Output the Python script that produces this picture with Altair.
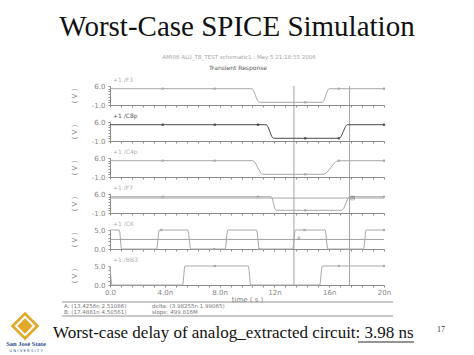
import altair as alt
import pandas as pd

# ---------------- data (time in ns, voltage in V) ----------------
names = ["+1  /F3", "+1  /C8p", "+1  /C4p", "+1  /F7", "+1  /CK", "+1  /BB3"]

f3_t = [0, 10.34, 10.9, 15.5, 16.0, 20]
f3_v = [5, 5, 0, 0, 5, 5]
c8p_t = [0, 11.4, 11.93, 16.73, 17.33, 20]
c8p_v = [5, 5, 0, 0, 5, 5]
c4p_t = [0, 10.42, 11.15, 15.56, 16.68, 20]
c4p_v = [5, 5, 0, 0, 5, 5]
f7_t = [0, 11.76, 12.12, 16.92, 17.5, 20]
f7_v = [5, 5, 0, 0, 5, 5]
ck_t = [0, 0.68, 0.85, 3.4, 3.6, 5.67, 5.9, 8.4, 8.6, 10.7, 10.9, 13.33, 13.53, 15.7, 15.9, 18.5, 18.7, 20]
ck_v = [5, 5, 0, 0, 5, 5, 0, 0, 5, 5, 0, 0, 5, 5, 0, 0, 5, 5]
bb3_t = [0, 0.15, 5.3, 5.47, 10.1, 10.27, 15.3, 15.5, 20]
bb3_v = [5, 0, 0, 5, 5, 0, 0, 5, 5]

# small markers on the traces
f3_mt, f3_mv = [3.85, 7.65, 14.25, 16.7, 20], [5, 5, 0, 5, 5]
c8p_mt, c8p_mv = [3.85, 7.65, 10.8, 14.25, 16.7, 20], [5, 5, 5, 0, 0, 5]
c4p_mt, c4p_mv = [3.85, 7.65, 14.25, 16.7, 20], [5, 5, 0, 5, 5]
f7_mt, f7_mv = [3.85, 10.8, 14.25, 20], [5, 5, 0, 5]
ck_mt, ck_mv = [3.75, 7.6, 10.9, 14.2, 20], [5, 0, 0, 5, 5]
bb3_mt, bb3_mv = [7.65, 16.7, 20], [5, 5, 5]

# cursors
cursor_names = ["A", "B"]
cursor_t = [13.4256, 17.4881]
cursor_v = [2.51086, 4.50561]

x_ticks = [0, 4, 8, 12, 16, 20]
x_tick_labels = ["0.0", "4.0n", "8.0n", "12n", "16n", "20n"]
x_minor = [round(0.8 * i, 1) for i in range(26)]

y_doms = [[-1, 6]] * 4 + [[0, 5]] * 2
y_tick_sets = [list(range(-1, 7))] * 4 + [list(range(0, 6))] * 2
y_label_sets = [{6: "6.0", -1: "-1.0"}] * 4 + [{5: "5.0", 0: "0.0"}] * 2

trace_color = ["#a8a8a8", "#4a4a4a", "#a8a8a8", "#a8a8a8", "#a8a8a8", "#a8a8a8"]

readout_a = "A: (13.4256n  2.51086)"
readout_b = "B: (17.4881n  4.50561)"
readout_delta = "delta: (3.98255n  1.99065)"
readout_slope = "slope: 499.816M"

title_text = "Worst-Case SPICE Simulation"
header_text = "AMI06 ALU_TB_TEST schematic1 : May  5 21:18:55 2006"
sub_text = "Transient Response"
footer_text = "Worst-case delay of analog_extracted circuit: 3.98 ns"
page_no = "17"

series = [(f3_t, f3_v), (c8p_t, c8p_v), (c4p_t, c4p_v), (f7_t, f7_v), (ck_t, ck_v), (bb3_t, bb3_v)]
markers = [(f3_mt, f3_mv), (c8p_mt, c8p_mv), (c4p_mt, c4p_mv), (f7_mt, f7_mv), (ck_mt, ck_mv), (bb3_mt, bb3_mv)]

# ---------------- layout ----------------
W, H, GAP = 274, 19, 17
LEFT, TOP = 110, 86
SANS = "DejaVu Sans"
SERIF = "Liberation Serif"
AXIS_TEXT = "#858585"

x_label_expr = " : ".join(f"datum.value == {v} ? '{l}'" for v, l in zip(x_ticks, x_tick_labels)) + " : ''"


def one(d):
    return pd.DataFrame(d)


def txt(text, x, y, size, color="#777", font=SANS, align="left", baseline="middle", weight="normal", angle=0):
    return alt.Chart(one({"s": [text]})).mark_text(
        font=font, fontSize=size, color=color, align=align, baseline=baseline, fontWeight=weight, angle=angle
    ).encode(text="s:N", x=alt.value(x), y=alt.value(y))


panels = []
for i in range(6):
    last = i == 5
    lab = y_label_sets[i]
    y_expr = " : ".join(f"datum.value == {k} ? '{v}'" for k, v in lab.items()) + " : ''"
    x_enc = alt.X(
        "t:Q",
        scale=alt.Scale(domain=[0, 20], nice=False, zero=False),
        axis=alt.Axis(
            values=x_minor, labelExpr=x_label_expr, labels=last, grid=False,
            title="time ( s )" if last else None,
            domainColor="#8a8a8a", tickColor="#8a8a8a", tickSize=2, domainWidth=1,
            labelFont=SANS, labelFontSize=7, labelColor=AXIS_TEXT, labelPadding=1,
            labelOverlap=False, labelFlush=False,
            titleFont=SANS, titleFontSize=7, titleFontWeight="normal", titleColor=AXIS_TEXT, titlePadding=0,
        ),
    )
    y_enc = alt.Y(
        "v:Q",
        scale=alt.Scale(domain=y_doms[i], nice=False, zero=False),
        axis=alt.Axis(
            values=y_tick_sets[i], labelExpr=y_expr, grid=False, title="( V )",
            domainColor="#8a8a8a", tickColor="#8a8a8a", tickSize=2,
            labelFont=SANS, labelFontSize=7, labelColor=AXIS_TEXT, labelPadding=3, labelOverlap=False,
            titleFont=SANS, titleFontSize=7, titleFontWeight="normal", titleColor=AXIS_TEXT,
            titleX=-36, titleY=H / 2, titleBaseline="middle", titleAngle=270,
        ),
    )
    df = pd.DataFrame({"t": series[i][0], "v": series[i][1]})
    mdf = pd.DataFrame({"t": markers[i][0], "v": markers[i][1]})
    layers = []
    # vertical cursors
    cdf = pd.DataFrame({"t": cursor_t, "c": cursor_names})
    layers.append(
        alt.Chart(cdf).mark_rule(color="#8c8c8c", strokeWidth=0.8).encode(
            x=x_enc, y=alt.value(0 if i == 0 else -GAP), y2=alt.value(H)
        )
    )
    if names[i].endswith("F7"):
        layers.append(alt.Chart(one({"v": [cursor_v[1]]})).mark_rule(color="#8c8c8c", strokeWidth=0.8).encode(y=y_enc))
    if names[i].endswith("CK"):
        layers.append(alt.Chart(one({"v": [cursor_v[0]]})).mark_rule(color="#8c8c8c", strokeWidth=0.8).encode(y=y_enc))
    layers.append(
        alt.Chart(df).mark_line(color=trace_color[i], strokeWidth=1, interpolate="monotone").encode(x=x_enc, y=y_enc)
    )
    layers.append(
        alt.Chart(mdf).mark_point(shape="square", size=5, filled=True, color=trace_color[i], opacity=1).encode(x=x_enc, y=y_enc)
    )
    if names[i].endswith("F7"):
        layers.append(
            alt.Chart(one({"t": [cursor_t[1]], "v": [cursor_v[1]]})).mark_point(
                shape="square", size=14, filled=False, color="#777", strokeWidth=0.7, xOffset=3
            ).encode(x=x_enc, y=y_enc)
        )
        layers.append(
            alt.Chart(one({"t": [cursor_t[1]], "v": [cursor_v[1]], "s": ["B"]})).mark_text(
                font=SANS, fontSize=4, color="#777", dx=3
            ).encode(x=x_enc, y=y_enc, text="s:N")
        )
    if names[i].endswith("CK"):
        layers.append(
            alt.Chart(one({"t": [cursor_t[0]], "v": [cursor_v[0]], "s": ["A"]})).mark_text(
                font=SANS, fontSize=5, color="#888", dx=3, dy=-1, align="left"
            ).encode(x=x_enc, y=y_enc, text="s:N")
        )
    layers.append(txt(names[i], 3, -6, 6, color="#5a5a5a" if i == 1 else "#b0b0b0"))

    if i == 0:
        # page anchor (defines the whole slide area) and the slide headings
        layers.append(
            alt.Chart(one({"a": [0]})).mark_rect(opacity=0).encode(
                x=alt.value(-LEFT), x2=alt.value(474 - LEFT), y=alt.value(-TOP), y2=alt.value(355 - TOP)
            )
        )
        layers.append(txt(title_text, 237 - LEFT, 36 - TOP, 29, color="#111", font=SERIF, align="center", baseline="alphabetic"))
        layers.append(txt(header_text, 239 - LEFT, 57 - TOP, 5.5, color="#a5a5a5", align="center"))
        layers.append(txt(sub_text, 238 - LEFT, 68 - TOP, 6, color="#555", align="center"))
    if last:
        y0 = TOP + 5 * (H + GAP)
        for yy in (302, 316):
            layers.append(
                alt.Chart(one({"a": [0]})).mark_rule(color="#777", strokeWidth=0.8).encode(
                    x=alt.value(62 - LEFT), x2=alt.value(393 - LEFT), y=alt.value(yy - y0)
                )
            )
        layers.append(txt(readout_a, 64 - LEFT, 306 - y0, 5.5, color="#777"))
        layers.append(txt(readout_b, 64 - LEFT, 312 - y0, 5.5, color="#777"))
        layers.append(txt(readout_delta, 152 - LEFT, 306 - y0, 5.5, color="#777"))
        layers.append(txt(readout_slope, 152 - LEFT, 312 - y0, 5.5, color="#777"))
        layers.append(txt(footer_text, 53 - LEFT, 338 - y0, 17, color="#111", font=SERIF, baseline="alphabetic"))
        layers.append(
            alt.Chart(one({"a": [0]})).mark_rule(color="#111", strokeWidth=0.9).encode(
                x=alt.value(358 - LEFT), x2=alt.value(414 - LEFT), y=alt.value(342 - y0)
            )
        )
        layers.append(txt(page_no, 441 - LEFT, 330 - y0, 8, color="#333", font=SERIF, align="center"))
        # university logo
        for size, col, filled in [(820, "#E2A82A", True), (330, "#ffffff", False), (90, "#E2A82A", True)]:
            layers.append(
                alt.Chart(one({"a": [0]})).mark_point(
                    shape="diamond", size=size, filled=filled, color=col, opacity=1, strokeWidth=2
                ).encode(x=alt.value(25 - LEFT), y=alt.value(326 - y0))
            )
        layers.append(txt("San José State", 26 - LEFT, 344 - y0, 6.5, color="#1f4f8f", font=SERIF, align="center", weight="bold"))
        layers.append(txt("U N I V E R S I T Y", 26 - LEFT, 351 - y0, 3.8, color="#1f4f8f", align="center"))

    panels.append(alt.layer(*layers).properties(width=W, height=H))

chart = (
    alt.vconcat(*panels, spacing=GAP, bounds="flush")
    .properties(padding=0)
    .configure_view(stroke=None)
)

chart.save("out.html", embed_options={"renderer": "svg", "actions": False})
